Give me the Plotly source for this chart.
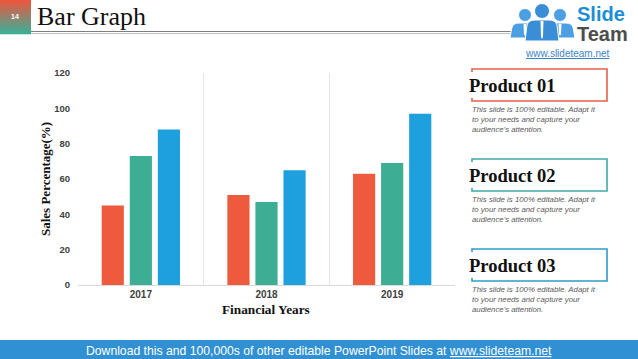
import plotly.graph_objects as go

W, H = 638, 359

years = ["2017", "2018", "2019"]
product_names = ["Product 01", "Product 02", "Product 03"]
product_01 = [45, 51, 63]
product_02 = [73, 47, 69]
product_03 = [88, 65, 97]
y_ticks = [0, 20, 40, 60, 80, 100, 120]
description = "This slide is 100% editable. Adapt it<br>to your needs and capture your<br>audience's attention."

bar_colors = ["#EE5A3D", "#3DAE94", "#1EA0DF"]
box_colors = ["#E8604A", "#3FA9A9", "#2E9ACB"]


def px(x):
    return x / W


def py(y):
    return 1 - y / H


def ann(text, x, y, size, color, family="Arial", xanchor="center", yanchor="middle", **kw):
    return dict(text=text, x=px(x), y=py(y), xref="paper", yref="paper", showarrow=False,
                xanchor=xanchor, yanchor=yanchor, font=dict(family=family, size=size, color=color), **kw)


fig = go.Figure()
for name, vals, col in zip(product_names, [product_01, product_02, product_03], bar_colors):
    fig.add_trace(go.Bar(x=years, y=vals, name=name, marker=dict(color=col, line=dict(width=0))))

shapes = []
annotations = []

# header badge gradient (red top -> teal bottom)
top_rgb = (233, 87, 63)
bot_rgb = (60, 174, 152)
n = 17
for i in range(n):
    t = i / (n - 1)
    c = tuple(round(a + (b - a) * t) for a, b in zip(top_rgb, bot_rgb))
    y0 = 34 * i / n
    y1 = 34 * (i + 1) / n + 0.3
    shapes.append(dict(type="rect", xref="paper", yref="paper", x0=px(0), x1=px(31), y0=py(y0), y1=py(y1),
                       fillcolor="rgb(%d,%d,%d)" % c, line=dict(width=0), layer="above"))
annotations.append(ann("<b>14</b>", 15.5, 17, 7, "white"))
annotations.append(ann("Bar Graph", 35, 17, 26, "#111111", family="Liberation Serif", xanchor="left"))
# title underline (double)
shapes.append(dict(type="line", xref="paper", yref="paper", x0=px(31), x1=px(512), y0=py(31.5), y1=py(31.5),
                   line=dict(color="#7f7f7f", width=1)))
shapes.append(dict(type="line", xref="paper", yref="paper", x0=px(31), x1=px(512), y0=py(33.5), y1=py(33.5),
                   line=dict(color="#bfbfbf", width=1)))


def path(points):
    return "M " + " L ".join("%.5f,%.5f" % (px(a), py(b)) for a, b in points)


def body(x0, x1, ytop, ybot):
    w = x1 - x0
    return ("M %.5f,%.5f " % (px(x0), py(ybot)) +
            "L %.5f,%.5f " % (px(x0 + w * 0.06), py(ytop + 5)) +
            "Q %.5f,%.5f %.5f,%.5f " % (px(x0 + w * 0.1), py(ytop), px(x0 + w * 0.3), py(ytop)) +
            "L %.5f,%.5f " % (px(x1 - w * 0.3), py(ytop)) +
            "Q %.5f,%.5f %.5f,%.5f " % (px(x1 - w * 0.1), py(ytop), px(x1 - w * 0.06), py(ytop + 5)) +
            "L %.5f,%.5f Z" % (px(x1), py(ybot)))


# logo people
for (hx, hy, r, bx0, bx1, bt, bb, col) in [
    (525, 15, 6.5, 510, 540, 23, 38, "#4C9FE3"),
    (560, 15, 6.5, 545, 575, 23, 38, "#4C9FE3"),
    (542, 11, 7.5, 525, 559, 20, 41, "#3A8ED8"),
]:
    shapes.append(dict(type="path", xref="paper", yref="paper", path=body(bx0, bx1, bt, bb),
                       fillcolor=col, line=dict(color="white", width=1)))
    shapes.append(dict(type="circle", xref="paper", yref="paper", x0=px(hx - r), x1=px(hx + r),
                       y0=py(hy + r), y1=py(hy - r), fillcolor=col, line=dict(color="white", width=1)))
    tx = (bx0 + bx1) / 2
    shapes.append(dict(type="path", xref="paper", yref="paper",
                       path=path([(tx - 1.5, bt + 1), (tx + 1.5, bt + 1), (tx + 1, bb - 4), (tx, bb - 2), (tx - 1, bb - 4)]) + " Z",
                       fillcolor="white", line=dict(width=0)))
annotations.append(ann("<b>Slide</b>", 575, 14, 20, "#1C8ED6", xanchor="left"))
annotations.append(ann("<b>Team</b>", 575, 34, 20, "#4d4d4d", xanchor="left"))
annotations.append(ann("<u>www.slideteam.net</u>", 567, 54, 10, "#3b83c6"))

# product boxes
box_tops = [69, 159, 249]
for name, top, col in zip(product_names, box_tops, box_colors):
    bot = top + 32
    shapes.append(dict(type="path", xref="paper", yref="paper",
                       path=path([(472, top + 3), (472, top), (607, top), (607, bot), (472, bot), (472, bot - 3)]),
                       line=dict(color=col, width=1.6)))
    annotations.append(ann("<b>%s</b>" % name, 467, top + 17, 18.5, "#111111", family="Liberation Serif",
                           xanchor="left"))
    annotations.append(ann("<i>%s</i>" % description, 470, top + 34, 7.8, "#595959", xanchor="left",
                           yanchor="top", align="left"))

# axis titles
annotations.append(ann("<b>Sales Percentage(%)</b>", 45, 179, 13, "#111111", family="Liberation Serif",
                       textangle=-90))
annotations.append(ann("<b>Financial Years</b>", 266, 309, 13.3, "#111111", family="Liberation Serif"))

# footer
shapes.append(dict(type="rect", xref="paper", yref="paper", x0=0, x1=1, y0=0, y1=py(340),
                   fillcolor="#3190D2", line=dict(width=0)))
annotations.append(ann("Download this and 100,000s of other editable PowerPoint Slides at <u>www.slideteam.net</u>",
                       319, 350.5, 12.2, "white"))

fig.update_layout(
    width=W, height=H,
    margin=dict(l=0, r=0, t=0, b=0),
    paper_bgcolor="white", plot_bgcolor="white",
    barmode="group", bargap=0.33, bargroupgap=0.21,
    showlegend=False,
    shapes=shapes, annotations=annotations,
    xaxis=dict(domain=[px(78), px(455)], type="category", range=[-0.5, 2.5], tickson="boundaries",
               showgrid=True, gridcolor="#e6e6e6", gridwidth=1, ticks="", showline=True, linecolor="#d9d9d9",
               tickfont=dict(family="Arial", size=10, color="#404040", weight="bold"), automargin=False),
    yaxis=dict(domain=[py(285), py(73)], range=[0, 120], tickvals=y_ticks, showgrid=False, zeroline=False,
               showline=False, ticks="", ticklabelstandoff=7,
               tickfont=dict(family="Arial", size=9.5, color="#404040", weight="bold"), automargin=False),
)

fig.write_html("out.html", config={"displayModeBar": False},
               post_script="document.body.style.margin='0px';document.body.style.overflow='hidden';")
